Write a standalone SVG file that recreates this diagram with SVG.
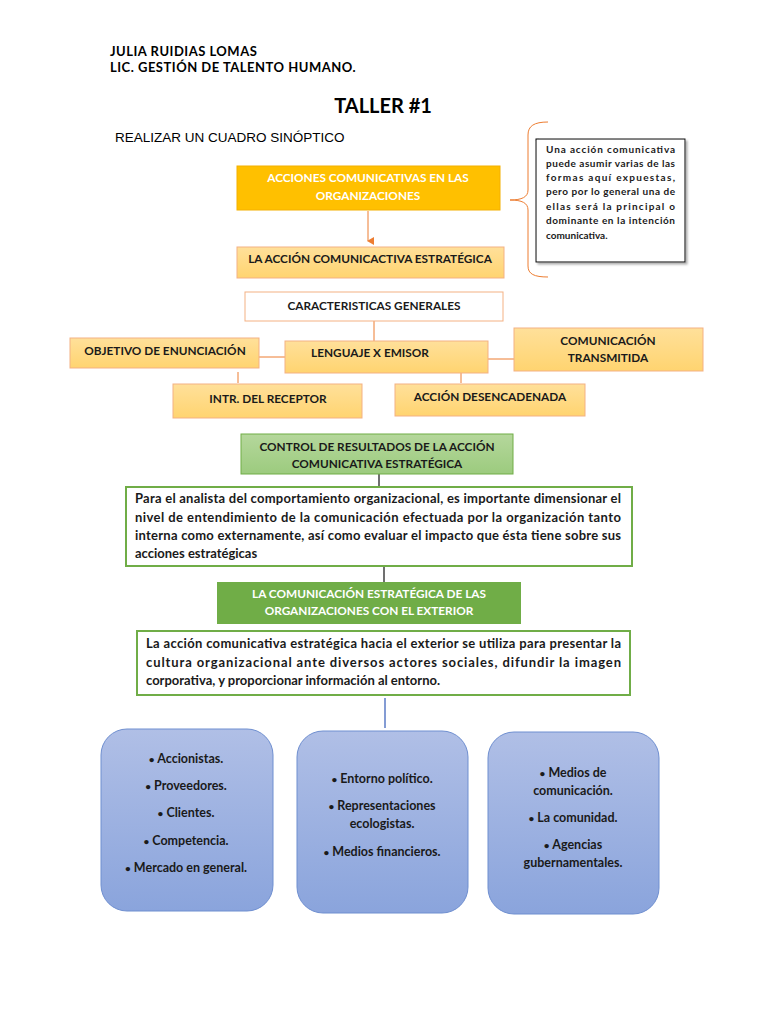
<svg xmlns="http://www.w3.org/2000/svg" width="768" height="1024" viewBox="0 0 768 1024">
<defs>
<linearGradient id="gBlue" x1="0" y1="0" x2="0" y2="1">
<stop offset="0" stop-color="#B0BFE6"/>
<stop offset="1" stop-color="#8AA4DC"/>
</linearGradient>
<linearGradient id="gLtOr" x1="0" y1="0" x2="0" y2="1">
<stop offset="0" stop-color="#FFE09A"/>
<stop offset="1" stop-color="#FFD470"/>
</linearGradient>
<linearGradient id="gLtGr" x1="0" y1="0" x2="0" y2="1">
<stop offset="0" stop-color="#B5D79C"/>
<stop offset="1" stop-color="#9CCB7E"/>
</linearGradient>
<marker id="arr" markerWidth="8" markerHeight="8" refX="4" refY="6" orient="auto" markerUnits="userSpaceOnUse">
<path d="M0,0 L8,0 L4,7 Z" fill="#ED7D31"/>
</marker>
<filter id="sh" x="-10%" y="-10%" width="120%" height="120%">
<feDropShadow dx="2" dy="2" stdDeviation="1" flood-color="#888" flood-opacity="0.7"/>
</filter>
</defs>
<style>
text{font-family:Lato,"Liberation Sans",sans-serif;fill:#1a1a1a}
.hd{font-size:13px;font-weight:bold;fill:#000;letter-spacing:0.5px}
.lbl{font-size:11.8px;font-weight:bold;text-anchor:middle}
.wl{fill:#fff}
.par{font-size:13px;font-weight:bold}
.note{font-size:10px;font-weight:bold}
.bul{font-size:12.5px;font-weight:bold;text-anchor:middle}
.dot{font-size:10px}
.orl{fill:url(#gLtOr);stroke:#F4B183;stroke-width:1}
.con{stroke:#ED7D31;stroke-width:1;fill:none}
</style>
<rect width="768" height="1024" fill="#fff"/>

<g id="header">
<text class="hd" x="110" y="56">JULIA RUIDIAS LOMAS</text>
<text class="hd" x="110" y="72">LIC. GESTIÓN DE TALENTO HUMANO.</text>
<text x="383" y="113" text-anchor="middle" style="font-size:20px;font-weight:bold;fill:#000">TALLER #1</text>
<text x="115" y="142" style="font-family:'Liberation Sans',Arial,sans-serif;font-size:13.5px;fill:#000">REALIZAR UN CUADRO SINÓPTICO</text>
</g>

<g id="connectors">
<line x1="368" y1="211" x2="368" y2="241" class="con" marker-end="url(#arr)"/>
<path d="M548,122 C534,122 528,126 528,135 L528,190 C528,197 522,200 510,200 C522,200 528,203 528,210 L528,266 C528,274 534,277 548,277" class="con" stroke-width="1.2"/>
<line x1="374" y1="321" x2="374" y2="341" class="con"/>
<line x1="259" y1="357" x2="285" y2="357" class="con"/>
<line x1="488" y1="359" x2="514" y2="359" class="con"/>
<line x1="461" y1="373" x2="461" y2="383" class="con"/>
<line x1="238" y1="372" x2="238" y2="383" class="con" stroke="#F4B183"/>
<line x1="379" y1="474" x2="379" y2="487" stroke="#404040" stroke-width="1.5"/>
<line x1="384" y1="566" x2="384" y2="582" stroke="#404040" stroke-width="1.5"/>
<line x1="385" y1="698" x2="385" y2="728" stroke="#5B7BC6" stroke-width="1.5"/>
</g>

<g id="n-acciones">
<rect x="237" y="166" width="263" height="44" fill="#FFC000" stroke="#F4B000" stroke-width="1"/>
<text class="lbl wl" x="368" y="182">ACCIONES COMUNICATIVAS EN LAS</text>
<text class="lbl wl" x="368" y="200">ORGANIZACIONES</text>
</g>

<g id="n-accion-estrategica">
<rect x="237" y="247" width="267" height="31" class="orl"/>
<text class="lbl" x="370" y="263">LA ACCIÓN COMUNICACTIVA ESTRATÉGICA</text>
</g>

<g id="n-nota">
<rect x="536" y="139" width="149" height="123" fill="#fff" stroke="#000" stroke-width="1" filter="url(#sh)"/>
<text class="note" x="546" y="153" textLength="129" lengthAdjust="spacing">Una acción comunicativa</text>
<text class="note" x="546" y="167" textLength="129" lengthAdjust="spacing">puede asumir varias de las</text>
<text class="note" x="546" y="181" textLength="129" lengthAdjust="spacing">formas aquí expuestas,</text>
<text class="note" x="546" y="195" textLength="129" lengthAdjust="spacing">pero por lo general una de</text>
<text class="note" x="546" y="210" textLength="129" lengthAdjust="spacing">ellas será la principal o</text>
<text class="note" x="546" y="224" textLength="129" lengthAdjust="spacing">dominante en la intención</text>
<text class="note" x="546" y="239">comunicativa.</text>
</g>

<g id="n-caracteristicas">
<rect x="245" y="292" width="258" height="29" fill="#fff" stroke="#F4B183" stroke-width="1"/>
<text class="lbl" x="374" y="310">CARACTERISTICAS GENERALES</text>
</g>

<g id="n-lenguaje">
<rect x="285" y="341" width="203" height="32" class="orl"/>
<text class="lbl" x="370" y="357">LENGUAJE X EMISOR</text>
</g>

<g id="n-objetivo">
<rect x="70" y="338" width="189" height="30" class="orl"/>
<text class="lbl" x="165" y="355">OBJETIVO DE ENUNCIACIÓN</text>
</g>

<g id="n-comunicacion">
<rect x="514" y="328" width="189" height="43" class="orl"/>
<text class="lbl" x="608" y="345">COMUNICACIÓN</text>
<text class="lbl" x="608" y="362">TRANSMITIDA</text>
</g>

<g id="n-receptor">
<rect x="173" y="384" width="189" height="34" class="orl"/>
<text class="lbl" x="268" y="403">INTR. DEL RECEPTOR</text>
</g>

<g id="n-desencadenada">
<rect x="395" y="384" width="190" height="32" class="orl"/>
<text class="lbl" x="490" y="401">ACCIÓN DESENCADENADA</text>
</g>

<g id="n-control">
<rect x="241" y="434" width="272" height="40" fill="url(#gLtGr)" stroke="#70AD47" stroke-width="1"/>
<text class="lbl" x="377" y="451">CONTROL DE RESULTADOS DE LA ACCIÓN</text>
<text class="lbl" x="377" y="468">COMUNICATIVA ESTRATÉGICA</text>
</g>

<g id="n-analista">
<rect x="126" y="487" width="506" height="79" fill="#fff" stroke="#70AD47" stroke-width="2"/>
<text class="par" x="135" y="503" textLength="486" lengthAdjust="spacing">Para el analista del comportamiento organizacional, es importante dimensionar el</text>
<text class="par" x="135" y="522" textLength="486" lengthAdjust="spacing">nivel de entendimiento de la comunicación efectuada por la organización tanto</text>
<text class="par" x="135" y="540" textLength="486" lengthAdjust="spacing">interna como externamente, así como evaluar el impacto que ésta tiene sobre sus</text>
<text class="par" x="135" y="558">acciones estratégicas</text>
</g>

<g id="n-exterior">
<rect x="217" y="582" width="304" height="42" fill="#70AD47"/>
<text class="lbl wl" x="369" y="598">LA COMUNICACIÓN ESTRATÉGICA DE LAS</text>
<text class="lbl wl" x="369" y="615">ORGANIZACIONES CON EL EXTERIOR</text>
</g>

<g id="n-accion-exterior">
<rect x="137" y="631" width="493" height="64" fill="#fff" stroke="#70AD47" stroke-width="2"/>
<text class="par" x="146" y="648" textLength="475" lengthAdjust="spacing">La acción comunicativa estratégica hacia el exterior se utiliza para presentar la</text>
<text class="par" x="146" y="667" textLength="475" lengthAdjust="spacing">cultura organizacional ante diversos actores sociales, difundir la imagen</text>
<text class="par" x="146" y="685">corporativa, y proporcionar información al entorno.</text>
</g>

<g id="n-grupo1">
<rect x="101" y="729" width="172" height="182" rx="26" fill="url(#gBlue)" stroke="#6F8FD0" stroke-width="1"/>
<text class="bul" x="186" y="763"><tspan class="dot">•</tspan> Accionistas.</text>
<text class="bul" x="186" y="790"><tspan class="dot">•</tspan> Proveedores.</text>
<text class="bul" x="186" y="817"><tspan class="dot">•</tspan> Clientes.</text>
<text class="bul" x="186" y="845"><tspan class="dot">•</tspan> Competencia.</text>
<text class="bul" x="186" y="872"><tspan class="dot">•</tspan> Mercado en general.</text>
</g>

<g id="n-grupo2">
<rect x="297" y="731" width="171" height="182" rx="26" fill="url(#gBlue)" stroke="#6F8FD0" stroke-width="1"/>
<text class="bul" x="382" y="783"><tspan class="dot">•</tspan> Entorno político.</text>
<text class="bul" x="382" y="810"><tspan class="dot">•</tspan> Representaciones</text>
<text class="bul" x="382" y="828">ecologistas.</text>
<text class="bul" x="382" y="856"><tspan class="dot">•</tspan> Medios financieros.</text>
</g>

<g id="n-grupo3">
<rect x="488" y="732" width="171" height="182" rx="26" fill="url(#gBlue)" stroke="#6F8FD0" stroke-width="1"/>
<text class="bul" x="573" y="777"><tspan class="dot">•</tspan> Medios de</text>
<text class="bul" x="573" y="795">comunicación.</text>
<text class="bul" x="573" y="822"><tspan class="dot">•</tspan> La comunidad.</text>
<text class="bul" x="573" y="849"><tspan class="dot">•</tspan> Agencias</text>
<text class="bul" x="573" y="867">gubernamentales.</text>
</g>
</svg>
